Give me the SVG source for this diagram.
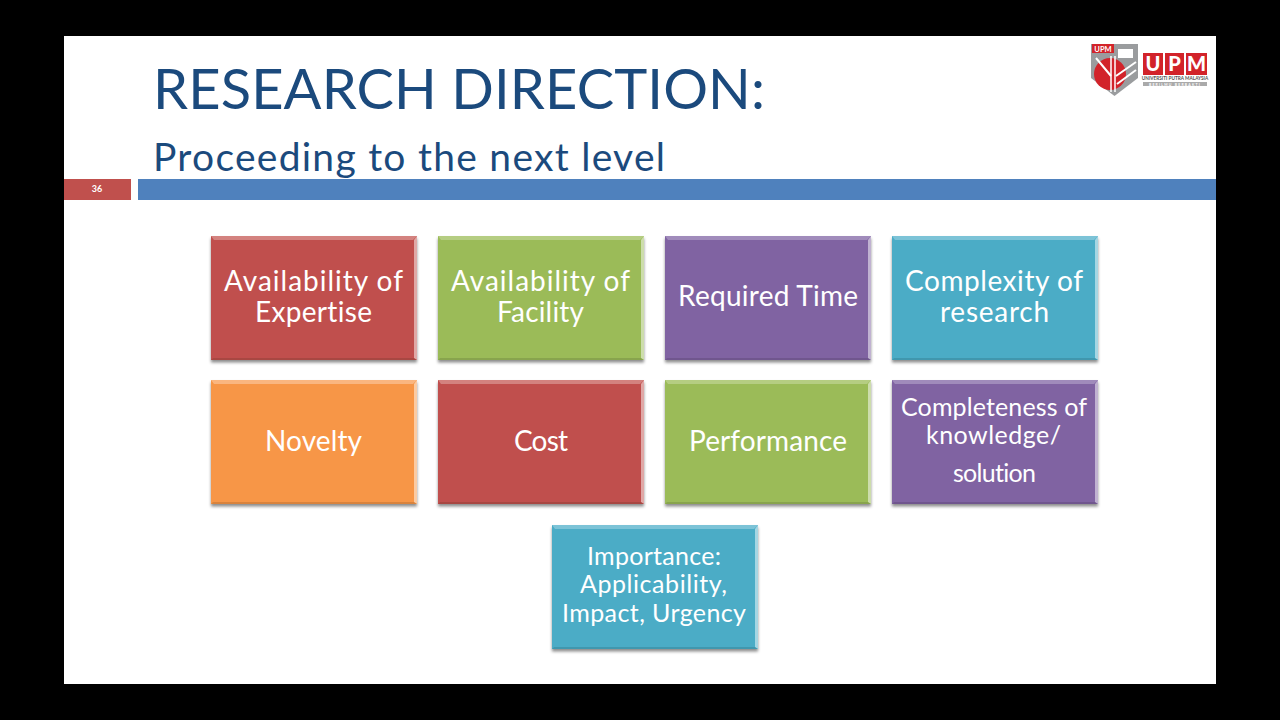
<svg xmlns="http://www.w3.org/2000/svg" width="1280" height="720" viewBox="0 0 1280 720">
<defs>
<filter id="sh" x="-5%" y="-5%" width="110%" height="112%"><feDropShadow dx="0" dy="2.500" stdDeviation="1.800" flood-color="#000" flood-opacity="0.45"/></filter>
</defs>
<style>
text{font-family:"Lato","Open Sans",sans-serif;font-variant-ligatures:none}
.t{fill:#fff;font-size:28px;text-anchor:middle}
.s{font-size:25px}
.h{fill:#1b4a7d}
.red{fill:#c0504d}.red-t{fill:#d3827f}
.grn{fill:#9bbb59}.grn-t{fill:#b5cd82}
.pur{fill:#8064a2}.pur-t{fill:#a08bbb}
.cyn{fill:#4bacc6}.cyn-t{fill:#7cc3d7}
.org{fill:#f79646}.org-t{fill:#fab680}
.e{fill:#fff;fill-opacity:.5}
.d{fill:#000;fill-opacity:.12}
</style>
<rect width="1280" height="720" fill="#000"/>
<rect x="64" y="36" width="1152" height="648" fill="#fff"/>
<text class="h" x="153" y="109" font-size="56" textLength="612" lengthAdjust="spacing">RESEARCH DIRECTION:</text>
<text class="h" x="153" y="171" font-size="39" textLength="512" lengthAdjust="spacing">Proceeding to the next level</text>
<rect x="64" y="179" width="67" height="21" fill="#c0504d"/>
<text x="97" y="192" font-size="9" font-weight="700" fill="#fff" text-anchor="middle">36</text>
<rect x="138" y="179" width="1078" height="21" fill="#4f81bd"/>

<g id="logo">
<path d="M1091 44H1138V78L1114.500 96L1091 78Z" fill="#9a9c9e"/>
<rect x="1092" y="44" width="22" height="9" fill="#d2232a"/>
<text x="1103" y="51.500" font-size="7.500" font-weight="700" fill="#fff" text-anchor="middle">UPM</text>
<circle cx="1110" cy="74" r="16" fill="#d2232a"/>
<path d="M1096 58L1111 76M1136 62L1116 76M1136 70L1117 84" stroke="#fff" stroke-width="2" fill="none"/>
<path d="M1111 56V92M1115 56V92" stroke="#fff" stroke-width="1.500"/>
<rect x="1118" y="49" width="15" height="9" fill="#fff"/>
<rect x="1143" y="53" width="20" height="22" fill="#d2232a"/>
<rect x="1165" y="53" width="19" height="22" fill="#d2232a"/>
<rect x="1186" y="53" width="21" height="22" fill="#d2232a"/>
<g fill="#fff" font-size="20" font-weight="900" text-anchor="middle"><text x="1153" y="71">U</text><text x="1174.500" y="71">P</text><text x="1196.500" y="71">M</text></g>
<text x="1175" y="80" font-size="4.700" font-weight="700" fill="#555" text-anchor="middle">UNIVERSITI PUTRA MALAYSIA</text>
<rect x="1143" y="82" width="64" height="4" fill="#aaa"/>
<text x="1175" y="85.500" font-size="3.500" font-weight="700" fill="#fff" text-anchor="middle" letter-spacing="1.200">BERILMU BERBAKTI</text>
</g>

<g id="n1"><g filter="url(#sh)"><rect class="red" x="211" y="236" width="206" height="124"/><path class="red-t" d="M211 236H417L413 240H214Z"/><path class="e" d="M417 236V360L414 358V240Z"/><path class="d" d="M211 360H417L414 358H213Z"/></g>
<text class="t" x="313.500" y="291" textLength="179">Availability of</text><text class="t" x="313.500" y="322" textLength="117">Expertise</text></g>
<g id="n2"><g filter="url(#sh)"><rect class="grn" x="438" y="236" width="206" height="124"/><path class="grn-t" d="M438 236H644L640 240H441Z"/><path class="e" d="M644 236V360L641 358V240Z"/><path class="d" d="M438 360H644L641 358H440Z"/></g>
<text class="t" x="540.500" y="291" textLength="179">Availability of</text><text class="t" x="540.500" y="322" textLength="87">Facility</text></g>
<g id="n3"><g filter="url(#sh)"><rect class="pur" x="665" y="236" width="206" height="124"/><path class="pur-t" d="M665 236H871L867 240H668Z"/><path class="e" d="M871 236V360L868 358V240Z"/><path class="d" d="M665 360H871L868 358H667Z"/></g>
<text class="t" x="768" y="306" textLength="180">Required Time</text></g>
<g id="n4"><g filter="url(#sh)"><rect class="cyn" x="892" y="236" width="206" height="124"/><path class="cyn-t" d="M892 236H1098L1094 240H895Z"/><path class="e" d="M1098 236V360L1095 358V240Z"/><path class="d" d="M892 360H1098L1095 358H894Z"/></g>
<text class="t" x="994" y="291" textLength="178">Complexity of</text><text class="t" x="994.500" y="322" textLength="109">research</text></g>

<g id="n5"><g filter="url(#sh)"><rect class="org" x="211" y="380" width="206" height="124"/><path class="org-t" d="M211 380H417L413 384H214Z"/><path class="e" d="M417 380V504L414 502V384Z"/><path class="d" d="M211 504H417L414 502H213Z"/></g>
<text class="t" x="313.500" y="451" textLength="97">Novelty</text></g>
<g id="n6"><g filter="url(#sh)"><rect class="red" x="438" y="380" width="206" height="124"/><path class="red-t" d="M438 380H644L640 384H441Z"/><path class="e" d="M644 380V504L641 502V384Z"/><path class="d" d="M438 504H644L641 502H440Z"/></g>
<text class="t" x="541" y="451" textLength="54">Cost</text></g>
<g id="n7"><g filter="url(#sh)"><rect class="grn" x="665" y="380" width="206" height="124"/><path class="grn-t" d="M665 380H871L867 384H668Z"/><path class="e" d="M871 380V504L868 502V384Z"/><path class="d" d="M665 504H871L868 502H667Z"/></g>
<text class="t" x="768" y="451" textLength="158">Performance</text></g>
<g id="n8"><g filter="url(#sh)"><rect class="pur" x="892" y="380" width="206" height="124"/><path class="pur-t" d="M892 380H1098L1094 384H895Z"/><path class="e" d="M1098 380V504L1095 502V384Z"/><path class="d" d="M892 504H1098L1095 502H894Z"/></g>
<text class="t s" x="994" y="416" textLength="186">Completeness of</text><text class="t s" x="993.500" y="444" textLength="135">knowledge/</text><text class="t s" x="994.500" y="482" textLength="83">solution</text></g>
<g id="n9"><g filter="url(#sh)"><rect class="cyn" x="552" y="525" width="206" height="124"/><path class="cyn-t" d="M552 525H758L754 529H555Z"/><path class="e" d="M758 525V649L755 647V529Z"/><path class="d" d="M552 649H758L755 647H554Z"/></g>
<text class="t s" x="654" y="565" textLength="134">Importance:</text><text class="t s" x="653.500" y="593" textLength="147">Applicability,</text><text class="t s" x="654" y="622" textLength="184">Impact, Urgency</text></g>
<g id="connectors"/>
</svg>
